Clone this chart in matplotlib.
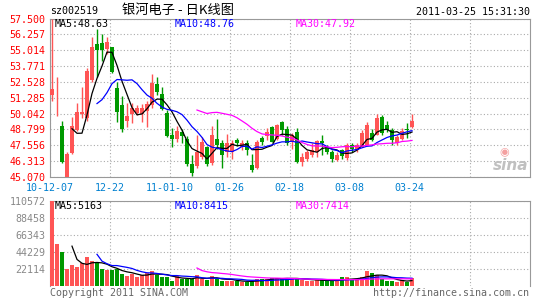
import matplotlib
matplotlib.use("Agg")
import matplotlib.pyplot as plt
import numpy as np
import pandas as pd

# ── Données (002519, bougies journalières) ──────────────────────────────────
opens = [51.50, 50.13, 49.06, 45.10, 46.92, 48.75, 50.00, 49.66, 52.70, 55.50,
         55.55, 55.13, 55.26, 52.05, 50.70, 49.47, 50.00, 50.10, 50.00, 50.25,
         50.70, 52.40, 51.60, 50.05, 48.40, 48.05, 48.60, 48.05, 46.10, 45.90,
         46.66, 47.40, 46.15, 48.05, 47.70, 47.05, 47.00, 47.95, 47.45, 47.70,
         46.00, 45.80, 48.10, 48.30, 49.00, 48.05, 49.35, 48.87, 47.80, 48.60,
         46.26, 46.50, 46.80, 47.05, 47.90, 47.45, 47.05, 46.40, 47.15, 46.55,
         47.60, 47.20, 47.45, 47.60, 48.55, 48.40, 49.78, 49.13, 48.75, 47.70,
         48.05, 48.80, 49.00]
highs = [57.50, 52.95, 49.50, 47.05, 49.80, 50.90, 52.13, 53.60, 56.04, 56.64,
         56.30, 56.04, 55.30, 52.50, 51.40, 50.85, 50.90, 50.75, 50.80, 51.00,
         53.17, 52.95, 52.10, 50.30, 48.90, 49.10, 48.80, 48.30, 46.80, 48.35,
         48.20, 47.50, 49.10, 49.65, 47.95, 48.45, 48.00, 48.10, 48.00, 48.00,
         46.85, 48.00, 48.30, 48.90, 49.10, 49.20, 49.50, 49.10, 48.50, 48.90,
         46.95, 47.20, 47.70, 48.00, 48.35, 47.60, 47.20, 47.00, 47.30, 47.70,
         47.75, 47.75, 48.74, 49.40, 48.80, 50.00, 49.90, 49.50, 48.90, 48.35,
         48.90, 49.30, 49.98]
lows = [51.00, 49.85, 46.20, 45.07, 46.85, 48.70, 49.66, 49.50, 52.50, 52.90,
        54.20, 54.75, 53.20, 49.40, 48.60, 49.00, 49.30, 49.90, 49.40, 49.00,
        50.50, 51.50, 50.30, 48.20, 47.45, 47.80, 47.70, 45.90, 45.15, 45.80,
        46.50, 45.95, 46.00, 47.30, 45.80, 46.65, 46.50, 47.50, 47.20, 46.80,
        45.45, 45.70, 47.60, 47.95, 47.80, 47.95, 48.40, 47.60, 47.30, 46.20,
        45.95, 46.30, 46.60, 46.60, 46.80, 46.90, 46.25, 46.30, 46.50, 46.40,
        47.00, 47.00, 47.40, 47.50, 47.90, 48.35, 48.35, 48.60, 47.60, 47.60,
        47.95, 48.10, 48.95]
closes = [51.95, 50.13, 46.26, 46.87, 49.06, 50.17, 50.17, 53.40, 55.26, 55.02,
          55.00, 55.65, 53.30, 50.13, 48.80, 49.84, 50.50, 50.45, 50.50, 50.80,
          52.45, 51.70, 50.40, 48.30, 48.05, 48.70, 48.30, 46.10, 45.35, 47.05,
          47.80, 46.10, 48.35, 47.55, 46.80, 47.75, 47.75, 47.75, 47.75, 47.20,
          45.60, 47.83, 47.85, 48.56, 47.85, 49.13, 48.75, 47.70, 48.35, 46.26,
          46.66, 47.05, 47.20, 47.90, 47.70, 47.05, 46.50, 46.80, 46.70, 47.55,
          47.25, 47.60, 48.55, 49.13, 47.96, 49.70, 48.50, 48.75, 47.96, 48.20,
          48.65, 48.72, 49.45]
volumes = [110572, 54600, 44600, 22100, 27300, 24300, 29500, 37300, 32500, 29500,
           21700, 20800, 20800, 22100, 15200, 13000, 15200, 12100, 14300, 16500,
           19900, 14300, 11300, 12100, 6900, 13000, 8700, 9100, 9100, 14300,
           9100, 7800, 13000, 9100, 6900, 6900, 6900, 6500, 5200, 5200,
           6500, 9100, 8700, 9100, 10400, 10400, 9100, 10400, 9100, 10400,
           7800, 6900, 6900, 7800, 7800, 6900, 6500, 6900, 11300, 11300,
           9100, 9100, 11300, 19500, 16500, 14300, 9100, 6900, 6900, 5200,
           7800, 5200, 10000]

date_labels = ["10-12-07", "12-22", "11-01-10", "01-26", "02-18", "03-08", "03-24", ""]
price_legend = ["MA5:48.63", "MA10:48.76", "MA30:47.92"]
volume_legend = ["MA5:5163", "MA10:8415", "MA30:7414"]

# ── Styles ──────────────────────────────────────────────────────────────────
W, H = 545, 300
RED, GREEN = "#FF5555", "#009900"
MA_COLORS = ["#000000", "#0000FF", "#FF00FF"]
MA_WINDOWS = [5, 10, 30]
GRID = dict(color="#AAAAAA", linestyle=(0, (1, 2)), linewidth=0.8)
MONO = "DejaVu Sans Mono"
SLOTS = 96  # nombre de places de bougies sur la largeur


def box(x0, y0, x1, y1):
    """Rectangle en pixels (origine en haut à gauche) -> coordonnées figure."""
    return [x0 / W, 1 - y1 / H, (x1 - x0) / W, (y1 - y0) / H]


def ftext(x, y, s, **kw):
    kw.setdefault("family", MONO)
    kw.setdefault("fontsize", 7.2)
    kw.setdefault("va", "center")
    fig.text(x / W, 1 - y / H, s, **kw)


o, h, l, c = map(np.array, (opens, highs, lows, closes))
vol = np.array(volumes, dtype=float)
x = np.arange(len(c))
colors = np.where(c >= o, RED, GREEN)
grid_x = np.arange(-0.5, SLOTS - 0.5, 12)

fig = plt.figure(figsize=(W / 100, H / 100), dpi=100)
fig.patch.set_facecolor("white")

# ── Panneau des cours ───────────────────────────────────────────────────────
ax = fig.add_axes(box(49.5, 18.5, 529.5, 177))
ax.vlines(x, l, h, colors=colors, linewidth=1, zorder=3)
ax.bar(x, np.maximum(np.abs(c - o), 0.04), bottom=np.minimum(o, c),
       width=0.8, color=colors, linewidth=0, zorder=4)
for win, col in zip(MA_WINDOWS, MA_COLORS):
    ax.plot(x, pd.Series(c).rolling(win).mean(), color=col, lw=0.9, zorder=5)

ymin, ymax = l.min(), h.max()
levels = np.linspace(ymin, ymax, 11)
ax.set_xlim(-0.5, SLOTS - 0.5)
ax.set_ylim(ymin, ymax)
ax.set_yticks(levels)
ax.set_yticklabels([f"{v:.3f}" for v in levels], color="#FF0000",
                   family=MONO, fontsize=7.2)
ax.set_xticks(grid_x)
ax.set_xticklabels(date_labels, color="#0080D0", family=MONO, fontsize=7.2)
ax.tick_params(length=0, pad=3)
ax.tick_params(axis="x", pad=4)
ax.grid(True, **GRID)
ax.set_axisbelow(True)
for sp in ax.spines.values():
    sp.set_edgecolor("#999999")

# ── Panneau des volumes ─────────────────────────────────────────────────────
axv = fig.add_axes(box(49.5, 201, 529.5, 286))
axv.bar(x, vol, width=0.8, color=colors, linewidth=0, zorder=3)
for win, col in zip(MA_WINDOWS, MA_COLORS):
    axv.plot(x, pd.Series(vol).rolling(win).mean(), color=col, lw=0.9, zorder=5)

vmax = vol.max()
vlevels = vmax / 5 * np.arange(1, 6)
axv.set_xlim(-0.5, SLOTS - 0.5)
axv.set_ylim(0, vmax)
axv.set_yticks(vlevels)
axv.set_yticklabels([f"{v:.0f}" for v in vlevels], color="#888888",
                    family=MONO, fontsize=7.2)
axv.set_xticks(grid_x)
axv.set_xticklabels([])
axv.tick_params(length=0, pad=3)
axv.grid(True, **GRID)
axv.set_axisbelow(True)
for sp in axv.spines.values():
    sp.set_edgecolor("#999999")
axv.spines["bottom"].set_visible(False)

# ── Textes ──────────────────────────────────────────────────────────────────
ftext(50, 11, "sz002519", ha="left")
ftext(178, 10.5, "银河电子 - 日K线图", ha="center", fontsize=9.5,
      family=["Noto Sans CJK SC", "DejaVu Sans"])
ftext(530, 12, "2011-03-25 15:31:30", ha="right")

for (px, txt, col) in zip([55, 175, 296], price_legend, MA_COLORS):
    ftext(px, 24, txt, ha="left", color=col)
for (px, txt, col) in zip([55, 175, 296], volume_legend, MA_COLORS):
    ftext(px, 206, txt, ha="left", color=col)

ftext(50, 293, "Copyright 2011 SINA.COM", ha="left", color="#666666")
ftext(529, 293, "http://finance.sina.com.cn", ha="right", color="#666666")

# filigrane "sina" (œil rose + texte gris)
ftext(511, 165, "sina", ha="center", color="#C0C0C0", fontsize=11,
      family="DejaVu Sans", style="italic", weight="bold")
fig.text(504 / W, 1 - 152 / H, "◉", ha="center", va="center",
         color="#F4A0A0", fontsize=8, family="DejaVu Sans")

fig.savefig("out.png", dpi=100)
